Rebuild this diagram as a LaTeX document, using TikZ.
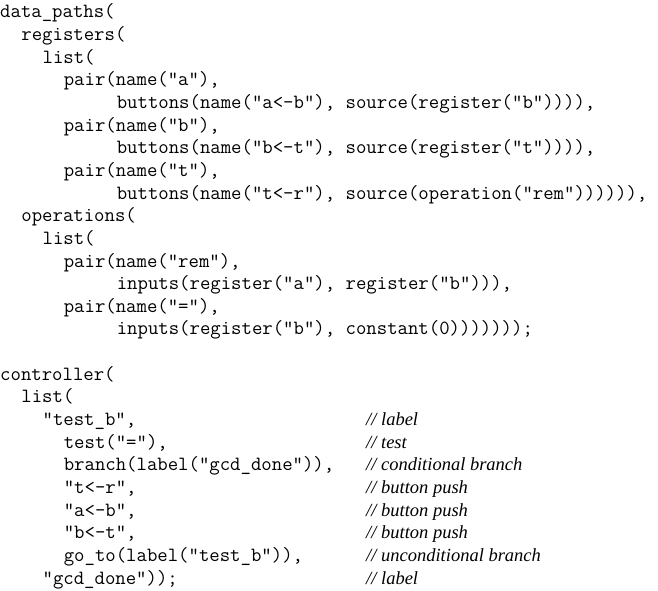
\documentclass[tikz,border=0pt]{standalone}
\usepackage{fontspec}
\setmainfont{Liberation Serif}
\setmonofont{Latin Modern Mono}
\begin{document}
\begin{tikzpicture}[x=1pt,y=-1pt,
  code/.style={anchor=base west,inner sep=0pt,font=\fontsize{20.2}{22}\selectfont\ttfamily},
  cmt/.style={anchor=base west,inner sep=0pt,font=\fontsize{18.5}{22}\selectfont\itshape}]
\useasboundingbox (0,0) rectangle (658,591);
\def\cw{10.6}
\def\ln{22.64}
\foreach \i/\ind/\t in {
0/0/{data\_paths(},
1/2/{registers(},
2/4/{list(},
3/6/{pair(name("a"),},
4/11/{buttons(name("a<-b"), source(register("b")))),},
5/6/{pair(name("b"),},
6/11/{buttons(name("b<-t"), source(register("t")))),},
7/6/{pair(name("t"),},
8/11/{buttons(name("t<-r"), source(operation("rem")))))),},
9/2/{operations(},
10/4/{list(},
11/6/{pair(name("rem"),},
12/11/{inputs(register("a"), register("b"))),},
13/6/{pair(name("="),},
14/11/{inputs(register("b"), constant(0)))))));},
16/0/{controller(},
17/2/{list(},
18/4/{"test\_b",},
19/6/{test("="),},
20/6/{branch(label("gcd\_done")),},
21/6/{"t<-r",},
22/6/{"a<-b",},
23/6/{"b<-t",},
24/6/{go\_to(label("test\_b")),},
25/4/{"gcd\_done"));}}
  \node[code] (l\i) at (\ind*\cw, 18+\i*\ln) {\t};
\foreach \i/\t in {18/label,19/test,20/conditional branch,21/button push,22/button push,23/button push,24/unconditional branch,25/label}
  \node[cmt] (c\i) at (366, 18+\i*\ln) {// \t};
\end{tikzpicture}
\end{document}
